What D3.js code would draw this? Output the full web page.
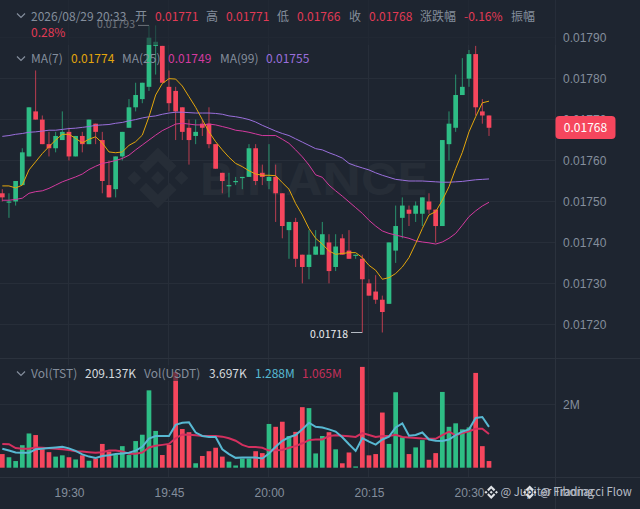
<!DOCTYPE html>
<html>
<head>
<meta charset="utf-8">
<script src="https://cdn.jsdelivr.net/npm/d3@7"></script>
<style>
  html, body { margin: 0; padding: 0; background: #1e2530; }
  svg { display: block; font-family: "Noto Sans CJK SC", "Noto Sans", sans-serif; }
  .axis path, .axis line { display: none; }
  .axis text { fill: #848e9c; font-size: 12px; font-family: inherit; }
</style>
</head>
<body>
<svg id="chart" width="640" height="509"></svg>
<script>
// Prices are in units of 0.00001, one candle per minute from 19:20
const opens = [1752,1750,1750,1754,1761,1772,1770,1764,1763,1765,1767,1761,1766,1764,1769,1765,1754,1753,1761,1768,
  1773,1775,1778,1788,1788,1778,1777,1773,1768,1766,1769,1769,1764,1757,1754,1755,1756,1756,1763,1757,
  1755,1756,1752,1743,1745,1737,1734,1737,1737,1740,1734,1741,1738,1737,1736,1730,1728,1726,1725,1738,
  1746,1748,1747,1747,1750,1748,1744,1764,1768,1776,1780,1786,1772,1771];
const highs = [1753,1752,1755,1763,1773,1782,1771,1767,1767,1772,1768,1766,1767,1770,1769,1767,1760,1761,1767,1775,
  1779,1779,1793,1793,1788,1782,1778,1773,1770,1770,1770,1773,1764,1757,1757,1756,1756,1764,1764,1759,
  1764,1759,1752,1745,1746,1737,1743,1743,1745,1742,1742,1742,1743,1737,1737,1731,1732,1727,1740,1749,
  1751,1749,1750,1751,1752,1748,1765,1772,1781,1785,1787,1788,1775,1771];
const lows = [1750,1746,1749,1754,1761,1770,1764,1761,1762,1765,1760,1761,1762,1764,1764,1752,1751,1751,1760,1768,
  1772,1774,1777,1781,1779,1772,1765,1765,1759,1764,1766,1763,1758,1752,1751,1754,1753,1756,1754,1754,
  1753,1745,1741,1736,1734,1730,1731,1737,1737,1730,1733,1737,1736,1736,1718,1727,1725,1718,1725,1735,
  1741,1744,1745,1744,1747,1740,1744,1760,1767,1776,1778,1771,1769,1766];
const closes = [1751,1750,1755,1762,1773,1770,1764,1763,1766,1767,1761,1766,1764,1770,1767,1755,1751,1761,1767,1773,
  1776,1779,1790,1789,1779,1774,1772,1767,1765,1767,1768,1764,1758,1755,1754,1755,1756,1763,1755,1756,
  1756,1752,1744,1745,1736,1734,1737,1739,1742,1733,1739,1737,1736,1737,1731,1727,1726,1723,1740,1744,
  1749,1747,1749,1751,1748,1744,1765,1769,1776,1778,1786,1773,1771,1768];
const ma7 = [1753.8,1753.8,1753.3,1754,1757.7,1759.7,1761.7,1763.4,1765,1766.4,1766.4,1765.4,1764.3,1765.2,1765.8,1764.3,1762.1,1761.9,1762.1,1763.7,
  1764.6,1766.2,1770.7,1776,1778.8,1780,1779.9,1778.2,1775.6,1773,1770,1767,1764.6,1762.6,1760.8,1759.3,1758.5,1757.5,1756.7,1756.4,
  1756.4,1756.3,1754.6,1753,1749.5,1746.7,1743.4,1741,1739.6,1737.9,1737.1,1737.3,1737.5,1737.5,1736.3,1734.4,1733.2,1731,1731.4,1732.4,
  1734,1736.3,1739.7,1743.4,1746.7,1747.5,1750.3,1753.6,1758,1762,1767,1770.7,1774.1,1774.5];
const ma25 = [1750.3,1750.3,1750.5,1750.8,1752,1752.4,1752.6,1753.2,1754,1754.8,1755.4,1756,1756.7,1757.8,1758.6,1759.3,1759.6,1760,1760.5,1761.3,
  1762.6,1763.8,1765,1766.2,1767.3,1768.1,1768.9,1769.1,1768.9,1768.7,1768.7,1768.9,1768.7,1768.3,1767.9,1767.4,1767.2,1766.9,1766.5,1766.1,
  1766.1,1766.1,1765.2,1764.2,1762.6,1760.9,1758.9,1756.5,1755.9,1754,1752.6,1751.3,1749.9,1748.5,1747.1,1745.4,1744,1742.8,1742.2,1741.8,
  1741.4,1741,1740.4,1740.1,1739.9,1739.6,1740.1,1741,1742.2,1744.2,1746.3,1747.7,1748.9,1749.8];
const ma99 = [1765.9,1766.1,1766.4,1766.6,1766.9,1767,1767.2,1767.4,1767.4,1767.6,1767.8,1767.9,1768.1,1768.3,1768.6,1768.7,1768.8,1769.1,1769.3,1769.7,
  1770,1770.4,1770.7,1770.9,1771.3,1771.6,1771.8,1771.8,1771.7,1771.6,1771.6,1771.6,1771.5,1771.3,1770.9,1770.7,1770.4,1770,1769.4,1768.6,
  1767.9,1767.2,1766.6,1766.1,1765.3,1764.5,1763.7,1762.9,1762.6,1761.9,1761.3,1760.6,1759.3,1758.7,1758.2,1757.7,1757,1756.4,1755.9,1755.4,
  1755.2,1755,1755,1755,1754.9,1754.8,1754.7,1754.7,1754.8,1754.9,1755.1,1755.3,1755.4,1755.5];
// Volumes in millions
const volumes = [.43,.33,.21,.71,1.08,1.03,.58,.49,.35,.39,.33,.26,.39,.22,.29,.75,.51,.40,.68,.40,
  .84,1.04,2.44,1.16,.40,.72,3.02,1.22,1.12,.14,.37,.52,.63,.35,.19,.07,.29,.29,.52,.46,
  1.38,1.29,1.45,1.0,1.13,1.91,1.88,.45,1.0,1.12,.58,.14,.48,.04,3.18,.39,.43,1.74,.75,2.38,
  .96,.43,.64,.87,.25,.46,2.39,1.29,1.40,1.21,1.27,2.99,.68,.21];
const volMaFast = [.60,.54,.48,.47,.47,.58,.60,.62,.64,.66,.61,.53,.42,.35,.31,.37,.39,.43,.45,.47,
  .54,.66,.92,1.0,1.0,1.0,1.35,1.42,1.43,1.11,1.0,.97,.97,.58,.43,.31,.32,.32,.32,.29,
  .45,.66,.85,.96,1.03,1.21,1.42,1.29,1.27,1.21,1.14,.96,.74,.53,.93,.82,.73,.89,.98,1.27,
  1.40,1.01,1.03,1.11,.89,.85,.84,.89,1.03,1.14,1.21,1.57,1.60,1.288];
const volMaSlow = [.75,.74,.62,.60,.60,.64,.63,.61,.60,.58,.56,.52,.51,.49,.47,.49,.54,.54,.51,.44,
  .44,.48,.64,.69,.72,.75,.93,1.05,1.04,1.02,1.0,1.0,1.0,.98,.93,.85,.72,.65,.65,.63,
  .54,.55,.56,.63,.68,.77,.87,.89,.89,1.0,1.02,1.01,.99,.97,1.09,1.03,.97,1.0,1.0,1.04,
  .97,.95,.94,.92,.91,.91,1.03,1.14,1.02,1.09,1.15,1.23,1.23,1.065];

const priceTicks = [1790, 1780, 1770, 1760, 1750, 1740, 1730, 1720];
const volTicks = [2];
const timeTicks = ["19:30", "19:45", "20:00", "20:15", "20:30"];

const lastPrice = 1768, chartHigh = 1793, chartLow = 1718;
const highIndex = 22, lowIndex = 54;

const W = 640, H = 509;
const axisX = 555.5, sepY = 358, xAxisY = 477;
const fmtPrice = v => (v / 100000).toFixed(5);
const parseTime = d3.timeParse('%Y/%m/%d %H:%M');
const startTime = parseTime('2026/08/29 19:20');
const times = closes.map((_, i) => d3.timeMinute.offset(startTime, i));
const tickTimes = timeTicks.map(t => parseTime('2026/08/29 ' + t));

const x = d3.scaleTime().domain([times[0], times[times.length - 1]]).range([2.3, 489]);
const y = d3.scaleLinear().domain([1720, 1790]).range([324.3, 37.7]);
const yVol = d3.scaleLinear().domain([0, 2]).range([467.7, 404.3]);

const GREEN = '#2ebd85', RED = '#f6465d', BG = '#1e2530', GRID = '#272e39', LINE = '#2b323d', DIM = '#848e9c';
const svg = d3.select('#chart');
svg.append('rect').attr('width', W).attr('height', H).attr('fill', BG);

// Grid
const grid = svg.append('g').attr('stroke', GRID).attr('stroke-width', 1).attr('shape-rendering', 'crispEdges');
grid.selectAll('.h').data(priceTicks).enter().append('line')
  .attr('x1', 0).attr('x2', axisX).attr('y1', d => y(d)).attr('y2', d => y(d));
grid.selectAll('.v').data(tickTimes).enter().append('line')
  .attr('x1', d => x(d)).attr('x2', d => x(d)).attr('y1', 0).attr('y2', xAxisY);
grid.selectAll('.hv').data(volTicks).enter().append('line')
  .attr('x1', 0).attr('x2', axisX).attr('y1', d => yVol(d)).attr('y2', d => yVol(d));

const seps = svg.append('g').attr('stroke', LINE).attr('shape-rendering', 'crispEdges');
seps.append('line').attr('x1', 0).attr('x2', W).attr('y1', sepY).attr('y2', sepY);
seps.append('line').attr('x1', 0).attr('x2', W).attr('y1', xAxisY).attr('y2', xAxisY);
seps.append('line').attr('x1', axisX).attr('x2', axisX).attr('y1', 0).attr('y2', H);

// Binance mark, drawn in a 32 box
const logoPath = 'M9.8 13.4L16 7.2L22.2 13.4L25.8 9.8L16 0L6.2 9.8Z' +
  'M22.2 18.6L16 24.8L9.8 18.6L6.2 22.2L16 32L25.8 22.2Z' +
  'M0 16L3.6 12.4L7.2 16L3.6 19.6Z' +
  'M32 16L28.4 12.4L24.8 16L28.4 19.6Z' +
  'M16 12.4L19.6 16L16 19.6L12.4 16Z';

// Watermark
const wm = svg.append('g').attr('fill', '#262d37');
wm.append('path').attr('d', logoPath).attr('transform', 'translate(127.5,147.5) scale(1.9)');
wm.append('text').attr('x', 200).attr('y', 195).attr('font-size', 44).attr('font-weight', 700)
  .attr('textLength', 228).attr('lengthAdjust', 'spacingAndGlyphs')
  .attr('font-family', 'Inter, "Noto Sans", sans-serif').text('BINANCE');

// Axes
svg.append('g').attr('class', 'axis').attr('transform', `translate(${axisX + 1.5},0)`)
  .call(d3.axisRight(y).tickValues(priceTicks).tickSize(0).tickPadding(6).tickFormat(fmtPrice));
svg.append('g').attr('class', 'axis').attr('transform', `translate(${axisX + 1.5},0)`)
  .call(d3.axisRight(yVol).tickValues(volTicks).tickSize(0).tickPadding(6).tickFormat(d => d + 'M'));
svg.append('g').attr('class', 'axis').attr('transform', `translate(0,${xAxisY})`)
  .call(d3.axisBottom(x).tickValues(tickTimes).tickSize(0).tickPadding(11).tickFormat(d3.timeFormat('%H:%M')));

// Volume bars
const barW = 4.7;
svg.append('g').selectAll('rect').data(volumes).enter().append('rect')
  .attr('x', (d, i) => x(times[i]) - barW / 2)
  .attr('width', barW)
  .attr('y', d => yVol(d))
  .attr('height', d => yVol(0) - yVol(d))
  .attr('fill', (d, i) => closes[i] >= opens[i] ? GREEN : RED);

// Candles
const candles = svg.append('g').selectAll('g').data(closes).enter().append('g')
  .attr('fill', (d, i) => closes[i] >= opens[i] ? GREEN : RED)
  .attr('stroke', (d, i) => closes[i] >= opens[i] ? GREEN : RED);
candles.append('line')
  .attr('x1', (d, i) => x(times[i])).attr('x2', (d, i) => x(times[i]))
  .attr('y1', (d, i) => y(highs[i])).attr('y2', (d, i) => y(lows[i]))
  .attr('stroke-width', 1).attr('stroke-opacity', 0.72);
candles.append('rect')
  .attr('x', (d, i) => x(times[i]) - barW / 2)
  .attr('width', barW)
  .attr('y', (d, i) => y(Math.max(opens[i], closes[i])))
  .attr('height', (d, i) => Math.max(1.2, Math.abs(y(opens[i]) - y(closes[i]))))
  .attr('stroke', 'none');

// Moving averages
const lineOf = (yScale) => d3.line().x((d, i) => x(times[i])).y(d => yScale(d));
[[ma99, '#9a6fdc', 1], [ma25, '#d43a9f', 1], [ma7, '#e3a60c', 1]].forEach(([vals, color, w]) => {
  svg.append('path').attr('d', lineOf(y)(vals)).attr('fill', 'none').attr('stroke', color).attr('stroke-width', w);
});
[[volMaSlow, '#d4305f', 2], [volMaFast, '#58b8d2', 2]].forEach(([vals, color, w]) => {
  svg.append('path').attr('d', lineOf(yVol)(vals)).attr('fill', 'none').attr('stroke', color).attr('stroke-width', w);
});

// High and low tags
svg.append('text').attr('x', 135).attr('y', 28).attr('text-anchor', 'end').attr('font-size', 10.5).attr('fill', '#eaecef').text(fmtPrice(chartHigh));
svg.append('line').attr('x1', 138).attr('x2', x(times[highIndex])).attr('y1', y(chartHigh)).attr('y2', y(chartHigh)).attr('stroke', '#eaecef');
svg.append('text').attr('x', 348).attr('y', 338).attr('text-anchor', 'end').attr('font-size', 10.5).attr('fill', '#eaecef').text(fmtPrice(chartLow));
svg.append('line').attr('x1', 351).attr('x2', x(times[lowIndex])).attr('y1', y(chartLow)).attr('y2', y(chartLow)).attr('stroke', '#b7bdc6');

// Translucent backing behind the legend rows
svg.append('rect').attr('width', axisX).attr('height', 45).attr('fill', BG).attr('fill-opacity', 0.62);
svg.append('rect').attr('y', 365).attr('width', 345).attr('height', 16).attr('fill', BG).attr('fill-opacity', 0.62);

// Legend
const legend = svg.append('g').attr('font-size', 12);
function label(px, py, txt, color) {
  legend.append('text').attr('x', px).attr('y', py).attr('fill', color).text(txt);
}
[16, 59, 374].forEach(cy => {
  legend.append('path').attr('d', `M17 ${cy - 2.5}L21 ${cy + 1.5}L25 ${cy - 2.5}`)
    .attr('fill', 'none').attr('stroke', DIM).attr('stroke-width', 1.2);
});
const RD = '#e23a55';
label(31, 21, '2026/08/29 20:33', DIM);
label(135, 21, '开', DIM);
label(155, 21, fmtPrice(opens[73]), RD);
label(206, 21, '高', DIM);
label(226, 21, fmtPrice(highs[73]), RD);
label(277, 21, '低', DIM);
label(297, 21, fmtPrice(lows[73]), RD);
label(349, 21, '收', DIM);
label(369, 21, fmtPrice(closes[73]), RD);
label(420, 21, '涨跌幅', DIM);
label(464, 21, '-0.16%', RD);
label(511, 21, '振幅', DIM);
label(31, 37, '0.28%', RD);

label(31, 63, 'MA(7)', DIM);
label(71, 63, '0.01774', '#e3a60c');
label(122, 63, 'MA(25)', DIM);
label(168, 63, '0.01749', '#d43a9f');
label(220, 63, 'MA(99)', DIM);
label(266, 63, '0.01755', '#9a6fdc');

label(31, 378, 'Vol(TST)', DIM);
label(85, 378, '209.137K', '#d5d9de');
label(144, 378, 'Vol(USDT)', DIM);
label(209, 378, '3.697K', '#d5d9de');
label(255, 378, '1.288M', '#58b8d2');
label(302, 378, '1.065M', '#c52f5a');

// Last price tag
svg.append('rect').attr('x', 555.5).attr('y', 116).attr('width', 60).attr('height', 23).attr('rx', 4).attr('fill', RED);
svg.append('text').attr('x', 585.5).attr('y', 132).attr('text-anchor', 'middle').attr('font-size', 12).attr('fill', '#fff').text(fmtPrice(lastPrice));

// Footer credits, two stacked on each other as in the source
[[484.5, 500.5, '@ Jupiter Trading'], [523, 540, '@ Fibonacci Flow']].forEach(([lx, tx, txt]) => {
  svg.append('path').attr('d', logoPath).attr('fill', '#dfe2e6').attr('transform', `translate(${lx},485.5) scale(0.42)`);
  svg.append('text').attr('x', tx).attr('y', 496).attr('font-size', 11.3).attr('fill', '#b7bdc6').text(txt);
});
</script>
</body>
</html>
